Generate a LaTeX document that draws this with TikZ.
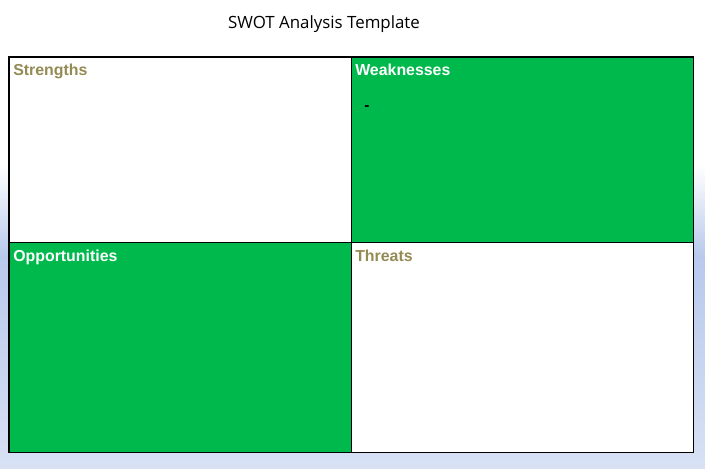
\documentclass[tikz,border=0pt]{standalone}
\usepackage{fontspec}
\setmainfont{Liberation Sans}
\newfontfamily\titlefont{Open Sans}
\usetikzlibrary{positioning}
\definecolor{swotgreen}{RGB}{0,185,76}
\definecolor{swottan}{RGB}{148,138,84}
\definecolor{bgblue}{RGB}{184,201,236}
\definecolor{bgpale}{RGB}{216,225,244}

\begin{document}
\begin{tikzpicture}[
    x=0.025cm, y=-0.025cm,
    quadrant/.style={rectangle, draw=black, line width=0.7pt, inner sep=0pt,
        minimum width=342*0.025cm, minimum height=185*0.025cm},
    greenquad/.style={quadrant, fill=swotgreen},
    whitequad/.style={quadrant, fill=white},
    heading/.style={font=\fontsize{11.3}{13}\selectfont\bfseries, anchor=north west, inner sep=0pt},
]

% === BACKGROUND ===
\useasboundingbox (0,0) rectangle (705,468);
\fill[white] (0,0) rectangle (705,165);
\shade[top color=white, bottom color=bgblue] (0,165) rectangle (705,256);
\shade[top color=bgblue, bottom color=bgpale] (0,256) rectangle (705,468);

% === TITLE ===
\node[font=\titlefont\fontsize{12}{14}\selectfont] (title) at (324,24) {SWOT Analysis Template};

% === QUADRANTS ===
\node[whitequad, minimum height=185*0.025cm] (s) at (180,149.5) {};
\node[greenquad, minimum height=185*0.025cm] (w) at (522,149.5) {};
\node[greenquad, minimum height=210*0.025cm] (o) at (180,347) {};
\node[whitequad, minimum height=210*0.025cm] (t) at (522,347) {};

% outer frame
\draw[line width=0.9pt] (s.north west) rectangle (t.south east);

% === HEADINGS ===
\node[heading, text=swottan] (sl) at (13,64) {Strengths};
\node[heading, text=white] (wl) at (355,64) {Weaknesses};
\node[heading, text=white] (ol) at (13,250) {Opportunities};
\node[heading, text=swottan] (tl) at (355,250) {Threats};
\node[font=\fontsize{11}{13}\selectfont\bfseries, anchor=north west, inner sep=0pt] (dash) at (364,105) {-};

\end{tikzpicture}
\end{document}
